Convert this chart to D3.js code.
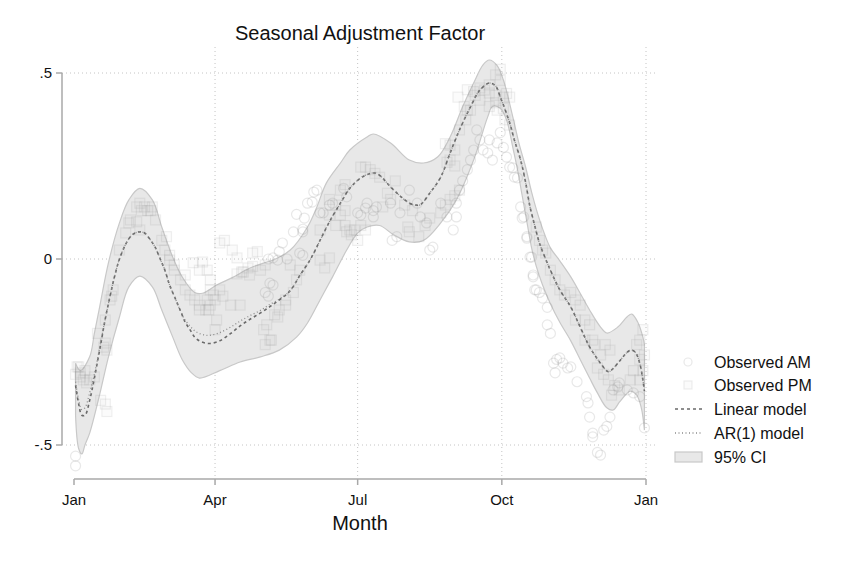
<!DOCTYPE html>
<html>
<head>
<meta charset="utf-8">
<script src="https://cdn.jsdelivr.net/npm/d3@7"></script>
<style>
  html, body { margin: 0; padding: 0; background: #fff; }
  svg { display: block; font-family: "Liberation Sans", Arial, sans-serif; }
</style>
</head>
<body>
<svg id="chart" width="849" height="566"></svg>
<script>
// ---------- DATA ----------
const xTickDays   = [0, 90, 181, 273, 365];
const xTickLabels = ["Jan", "Apr", "Jul", "Oct", "Jan"];
const yTickValues = [-0.5, 0, 0.5];
const yTickLabels = ["-.5", "0", ".5"];

const modelDays = [1,3,5,7,10,13,17,20,23,26,29,33,36,39,42,45,49,52,55,58,61,64,68,71,74,77,80,84,87,93,100,106,112,119,125,131,138,144,151,157,163,170,176,183,189,192,195,202,208,214,218,221,227,234,240,246,253,259,265,269,272,278,281,285,288,291,294,297,304,310,317,323,329,336,341,345,348,352,355,358,361,364];
const linearModel = [-0.34,-0.39,-0.42,-0.42,-0.38,-0.32,-0.23,-0.16,-0.10,-0.045,0.0,0.04,0.06,0.07,0.073,0.07,0.05,0.03,0.0,-0.03,-0.07,-0.10,-0.14,-0.17,-0.19,-0.21,-0.22,-0.226,-0.227,-0.22,-0.20,-0.18,-0.163,-0.145,-0.128,-0.11,-0.085,-0.045,0.0,0.05,0.10,0.15,0.19,0.218,0.23,0.231,0.225,0.194,0.17,0.15,0.145,0.146,0.177,0.22,0.285,0.347,0.409,0.454,0.473,0.465,0.436,0.366,0.32,0.266,0.21,0.14,0.09,0.043,-0.03,-0.083,-0.129,-0.183,-0.236,-0.28,-0.303,-0.29,-0.275,-0.255,-0.245,-0.25,-0.28,-0.355];
const ar1Model = [-0.33,-0.38,-0.405,-0.40,-0.36,-0.31,-0.225,-0.16,-0.10,-0.045,0.0,0.04,0.06,0.07,0.073,0.07,0.05,0.03,0.0,-0.03,-0.07,-0.10,-0.14,-0.165,-0.18,-0.193,-0.2,-0.205,-0.205,-0.198,-0.183,-0.167,-0.153,-0.138,-0.122,-0.108,-0.085,-0.045,0.0,0.05,0.10,0.15,0.19,0.218,0.23,0.231,0.225,0.194,0.17,0.15,0.145,0.146,0.177,0.22,0.285,0.347,0.409,0.454,0.473,0.465,0.436,0.366,0.32,0.266,0.21,0.14,0.09,0.043,-0.03,-0.083,-0.129,-0.183,-0.236,-0.28,-0.303,-0.29,-0.275,-0.255,-0.245,-0.25,-0.28,-0.355];

const ciUpperDays = [1,4,10,13,16,22,29,35,42,50,56,63,69,77,82,91,101,112,123,127,138,149,155,161,170,176,187,191,202,214,223,232,240,248,255,261,265,270,274,280,284,288,292,296,300,304,310,317,323,329,336,340,347,353,356,360,363,364];
const ciUpper = [-0.28,-0.30,-0.263,-0.20,-0.137,-0.01,0.097,0.159,0.19,0.159,0.086,0.005,-0.048,-0.09,-0.092,-0.07,-0.05,-0.025,-0.008,-0.003,0.024,0.086,0.14,0.204,0.258,0.293,0.328,0.336,0.312,0.266,0.258,0.274,0.328,0.409,0.473,0.522,0.535,0.52,0.481,0.382,0.31,0.25,0.18,0.12,0.07,0.03,-0.005,-0.048,-0.092,-0.137,-0.183,-0.199,-0.183,-0.155,-0.148,-0.172,-0.21,-0.23];
const ciLowerDays = [1,3,5,7,10,16,22,29,35,42,50,56,63,69,75,80,93,106,119,131,142,149,157,165,174,181,187,195,204,214,223,234,244,255,264,267,272,276,280,283,286,289,292,295,299,304,310,317,323,329,334,340,344,348,352,355,359,362,364];
const ciLower = [-0.42,-0.51,-0.524,-0.50,-0.468,-0.371,-0.263,-0.156,-0.075,-0.046,-0.075,-0.137,-0.21,-0.27,-0.306,-0.32,-0.30,-0.277,-0.263,-0.245,-0.21,-0.172,-0.11,-0.048,0.024,0.07,0.086,0.09,0.065,0.046,0.05,0.097,0.159,0.266,0.382,0.41,0.405,0.374,0.30,0.24,0.17,0.10,0.03,-0.02,-0.07,-0.12,-0.17,-0.22,-0.27,-0.32,-0.36,-0.40,-0.406,-0.385,-0.365,-0.355,-0.365,-0.40,-0.46];

// Observed AM (circles): [day of year, value]
const observedAM = [
  [1,-0.53],[1,-0.556],
  [125,-0.065],[122,-0.09],[124,-0.10],[127,-0.07],[130,-0.003],[131,0.02],[133,0.043],[136,0.0],[124,0.0],[127,0.003],
  [140,0.073],[146,0.073],[146,0.01],[142,0.12],[147,0.11],[149,0.15],[152,0.153],[153,0.18],[155,0.185],[146,0.08],[144,0.016],
  [157,0.124],[159,0.124],[163,0.145],[165,0.15],[172,0.19],[174,0.167],[181,0.124],[183,0.118],[186,0.137],[187,0.15],[191,0.13],[193,0.14],[191,0.113],[202,0.15],[208,0.124],[206,0.06],[203,0.05],
  [214,0.185],[219,0.15],[221,0.113],[227,0.024],[229,0.032],[225,0.097],[234,0.15],[238,0.113],[242,0.078],[244,0.113],[244,0.15],[246,0.185],[248,0.21],[251,0.24],[253,0.266],[255,0.293],[257,0.347],[259,0.32],[261,0.293],[264,0.285],[265,0.32],[267,0.266],[270,0.312],[272,0.34],[274,0.30],[276,0.274],[278,0.247],[280,0.245],[281,0.22],[283,0.218],
  [285,0.14],[287,0.113],[286,0.11],[289,0.06],[289,0.056],[291,0.005],[292,0.005],[293,-0.048],[293,-0.043],[295,-0.083],[294,-0.083],[297,-0.09],[299,-0.105],[302,-0.13],[302,-0.177],[304,-0.2],
  [306,-0.28],[308,-0.27],[310,-0.266],[312,-0.28],[307,-0.306],[315,-0.293],[317,-0.29],[321,-0.33],[327,-0.37],[328,-0.387],[329,-0.425],[331,-0.468],[331,-0.478],[338,-0.46],[340,-0.45],[342,-0.425],[344,-0.352],[347,-0.344],[348,-0.333],[353,-0.352],[357,-0.36],[361,-0.37],[364,-0.454],[334,-0.52],[336,-0.527]
];

// Observed PM (squares): [day of year, value]
const observedPM = [
  [4,-0.306],[8,-0.333],[10,-0.325],[17,-0.38],[20,-0.39],[21,-0.41],[4,-0.317],[7,-0.30],[15,-0.2],[19,-0.237],[21,-0.245],[13,-0.317],[3,-0.29],[1,-0.31],[2,-0.29],[6,-0.325],
  [20,-0.226],[20,-0.164],[23,-0.11],[25,-0.083],[24,-0.10],[29,0.024],[33,0.07],[35,0.097],[36,0.105],[43,0.13],[42,0.15],[45,0.14],[49,0.13],[52,0.105],[50,0.14],[40,0.14],[47,0.13],[40,0.10],[42,0.078],
  [56,0.05],[58,0.024],[59,0.06],[61,0.01],[61,-0.003],[64,-0.016],[64,-0.03],[68,-0.056],[71,-0.083],[74,-0.097],[77,-0.11],[80,-0.124],[84,-0.137],[80,-0.137],[87,-0.124],[90,-0.11],[93,-0.083],[76,-0.01],[80,-0.03],[71,-0.043],[93,0.043],[96,0.05],[101,0.024],[114,0.016],[117,0.02],
  [85,-0.11],[89,-0.097],[95,-0.10],[100,-0.124],[106,-0.124],[114,-0.02],[119,-0.03],[122,-0.016],[82,-0.008],[85,-0.03],[87,-0.056],[87,-0.083],[86,-0.137],[91,-0.164],[90,-0.19],[104,0.003],[108,-0.035],[111,-0.024],[112,-0.043],[104,-0.04],[107,-0.035],
  [121,-0.19],[123,-0.177],[125,-0.218],[122,-0.23],[128,-0.15],[130,-0.156],[131,-0.137],[135,-0.11],[138,-0.016],[144,-0.03],[142,-0.056],[140,-0.09],[135,-0.124],[126,-0.218],
  [157,0.078],[163,0.118],[167,0.09],[170,0.118],[173,0.09],[176,0.078],[179,0.078],[183,0.09],[173,0.13],[160,-0.024],[157,-0.003],[163,0.003],[173,0.2],[170,0.185],[163,0.16],[167,0.145],[174,0.073],[177,0.065],[181,0.05],[186,0.078],[183,0.247],[186,0.247],[189,0.24],[192,0.23],[195,0.22],
  [205,0.21],[200,0.177],[202,0.16],[197,0.14],[211,0.145],[216,0.13],[213,0.086],[214,0.073],[220,0.06],[224,0.09],[227,0.11],[234,0.124],[237,0.145],[240,0.16],[243,0.17],[246,0.185],[238,0.26],[240,0.266],[243,0.25],[237,0.31],[240,0.306],[243,0.293],[246,0.347],[250,0.374],[253,0.40],[256,0.44],[259,0.427],[262,0.454],[265,0.468],[269,0.44],[272,0.48],[265,0.446],[274,0.435],[270,0.40],[275,0.374],[278,0.36],[272,0.51],[269,0.495],
  [245,0.435],[251,0.455],[255,0.45],[259,0.46],[249,0.41],[251,0.40],[265,0.41],[269,0.42],[274,0.405],[276,0.445],[278,0.435],
  [295,0.086],[297,0.05],[301,0.016],[299,0.024],[304,-0.03],[307,-0.056],[310,-0.083],[313,-0.097],[317,-0.09],[320,-0.11],[323,-0.124],[320,-0.164],[326,-0.164],[329,-0.177],[326,-0.218],[331,-0.218],[332,-0.23],[336,-0.258],[339,-0.23],[342,-0.245],[334,-0.293],[338,-0.31],[341,-0.325],[345,-0.34],[343,-0.366],[348,-0.352],[355,-0.325],[357,-0.30],[361,-0.27],[359,-0.23],[361,-0.218],[363,-0.19],[364,-0.258],[363,-0.30],[361,-0.325]
];

const legendLabels = ["Observed AM", "Observed PM", "Linear model", "AR(1) model", "95% CI"];
const titleText = "Seasonal Adjustment Factor";
const xAxisTitle = "Month";

// ---------- DRAWING ----------
const svg = d3.select("#chart");
const x = d3.scaleLinear().domain([0, 365]).range([74, 646]);
const y = d3.scaleLinear().domain([-0.5, 0.5]).range([445, 73]);
const plotTop = 47, plotRight = 657, plotLeft = 62, axisY = 479;

const gridColor = "#c4c4c4";
const axisColor = "#a8a8a8";

// horizontal grid
svg.append("g").selectAll("line").data(yTickValues).join("line")
  .attr("x1", plotLeft).attr("x2", plotRight)
  .attr("y1", d => y(d)).attr("y2", d => y(d))
  .attr("stroke", gridColor).attr("stroke-width", 1).attr("stroke-dasharray", "1,3");
// vertical grid (skip first Jan)
svg.append("g").selectAll("line").data(xTickDays.slice(1)).join("line")
  .attr("x1", d => x(d)).attr("x2", d => x(d))
  .attr("y1", plotTop).attr("y2", axisY)
  .attr("stroke", gridColor).attr("stroke-width", 1).attr("stroke-dasharray", "1,3");

const curve = d3.curveCatmullRom.alpha(0.5);
const lineGen = d3.line().x(d => x(d[0])).y(d => y(d[1])).curve(curve);

// CI band
const upPts = ciUpperDays.map((d, i) => [d, ciUpper[i]]);
const loPts = ciLowerDays.map((d, i) => [d, ciLower[i]]).reverse();
const bandPath = lineGen(upPts) + lineGen(loPts).replace(/^M/, "L") + "Z";
svg.append("path").attr("d", bandPath)
  .attr("fill", "#e8e8e8").attr("stroke", "#c8c8c8").attr("stroke-width", 1.2);

// scatter points
svg.append("g").selectAll("circle").data(observedAM).join("circle")
  .attr("cx", d => x(d[0])).attr("cy", d => y(d[1])).attr("r", 5)
  .attr("fill", "none").attr("stroke", "#8a8a8a").attr("stroke-opacity", 0.2).attr("stroke-width", 1.2);
svg.append("g").selectAll("rect").data(observedPM).join("rect")
  .attr("x", d => x(d[0]) - 5).attr("y", d => y(d[1]) - 5)
  .attr("width", 10).attr("height", 10)
  .attr("fill", "#b8b8b8").attr("fill-opacity", 0.05)
  .attr("stroke", "#8a8a8a").attr("stroke-opacity", 0.13).attr("stroke-width", 1.2);

// model lines
const linPts = modelDays.map((d, i) => [d, linearModel[i]]);
const arPts = modelDays.map((d, i) => [d, ar1Model[i]]);
svg.append("path").attr("d", lineGen(linPts)).attr("fill", "none")
  .attr("stroke", "#6a6a6a").attr("stroke-width", 1.6).attr("stroke-dasharray", "3,3");
svg.append("path").attr("d", lineGen(arPts)).attr("fill", "none")
  .attr("stroke", "#8c8c8c").attr("stroke-width", 1.3).attr("stroke-dasharray", "1,2.5");

// y axis
const yAxis = svg.append("g");
yAxis.append("line").attr("x1", plotLeft).attr("x2", plotLeft)
  .attr("y1", y(0.5)).attr("y2", y(-0.5)).attr("stroke", axisColor).attr("stroke-width", 1.5);
yAxis.selectAll("line.t").data(yTickValues).join("line").attr("class", "t")
  .attr("x1", plotLeft - 6).attr("x2", plotLeft).attr("y1", d => y(d)).attr("y2", d => y(d))
  .attr("stroke", axisColor).attr("stroke-width", 1.5);
yAxis.selectAll("text").data(yTickValues).join("text")
  .attr("x", 52).attr("y", d => y(d) + 5).attr("text-anchor", "end")
  .attr("font-size", 15).attr("fill", "#111").text((d, i) => yTickLabels[i]);

// x axis
const xAxis = svg.append("g");
xAxis.append("line").attr("x1", x(0)).attr("x2", x(365))
  .attr("y1", axisY).attr("y2", axisY).attr("stroke", axisColor).attr("stroke-width", 1.5);
xAxis.selectAll("line.t").data(xTickDays).join("line").attr("class", "t")
  .attr("x1", d => x(d)).attr("x2", d => x(d)).attr("y1", axisY).attr("y2", axisY + 6)
  .attr("stroke", axisColor).attr("stroke-width", 1.5);
xAxis.selectAll("text").data(xTickDays).join("text")
  .attr("x", d => x(d)).attr("y", 505).attr("text-anchor", "middle")
  .attr("font-size", 15).attr("fill", "#111").text((d, i) => xTickLabels[i]);

svg.append("text").attr("x", 360).attr("y", 530).attr("text-anchor", "middle")
  .attr("font-size", 20).attr("fill", "#111").text(xAxisTitle);
svg.append("text").attr("x", 360).attr("y", 40).attr("text-anchor", "middle")
  .attr("font-size", 20).attr("fill", "#111").text(titleText);

// legend
const lg = svg.append("g");
const rowY = [362, 385, 409, 433, 457];
lg.selectAll("text").data(legendLabels).join("text")
  .attr("x", 714).attr("y", (d, i) => rowY[i] + 5.5)
  .attr("font-size", 16).attr("fill", "#111").text(d => d);
lg.append("circle").attr("cx", 688).attr("cy", rowY[0]).attr("r", 4)
  .attr("fill", "none").attr("stroke", "#8a8a8a").attr("stroke-opacity", 0.2).attr("stroke-width", 1.2);
lg.append("rect").attr("x", 684).attr("y", rowY[1] - 4).attr("width", 8).attr("height", 8)
  .attr("fill", "#b8b8b8").attr("fill-opacity", 0.05)
  .attr("stroke", "#8a8a8a").attr("stroke-opacity", 0.15).attr("stroke-width", 1.2);
lg.append("line").attr("x1", 675).attr("x2", 702).attr("y1", rowY[2]).attr("y2", rowY[2])
  .attr("stroke", "#6a6a6a").attr("stroke-width", 1.6).attr("stroke-dasharray", "3,3");
lg.append("line").attr("x1", 675).attr("x2", 702).attr("y1", rowY[3]).attr("y2", rowY[3])
  .attr("stroke", "#8c8c8c").attr("stroke-width", 1.3).attr("stroke-dasharray", "1,2.5");
lg.append("rect").attr("x", 675).attr("y", rowY[4] - 5).attr("width", 27).attr("height", 10)
  .attr("fill", "#e8e8e8").attr("stroke", "#c8c8c8").attr("stroke-width", 1.2);
</script>
</body>
</html>
